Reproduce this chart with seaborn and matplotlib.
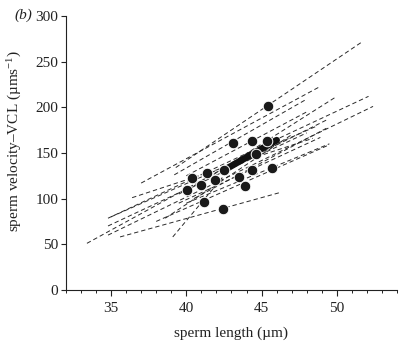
import numpy as np
import pandas as pd
import matplotlib
matplotlib.use("Agg")
import matplotlib.pyplot as plt
import seaborn as sns
from matplotlib.ticker import MultipleLocator

# Male means (sperm length, VCL)
mean_length = [45.4, 43.1, 44.38, 45.33, 44.6, 40.35, 41.35, 42.5, 41.9, 40.97,
               40.06, 41.17, 42.41, 43.51, 43.87, 44.38, 45.68]
mean_vcl = [201, 160.5, 162.8, 163.5, 148.9, 122.6, 127.8, 131.4, 120, 115.3,
            109.5, 96.4, 88.7, 123.7, 113.9, 131, 133.9]

# Within-male regression segments: start/end sperm length and fitted VCL
seg_x0 = [39.3, 37.0, 39.2, 34.8, 33.4, 34.8, 35.6, 36.4, 38.6, 39.1,
          38.0, 39.5, 40.5, 40.0, 39.5, 40.0, 41.0, 35.0, 34.8]
seg_x1 = [51.7, 48.8, 48.0, 52.1, 46.0, 52.4, 46.3, 48.4, 47.0, 43.0,
          49.5, 48.9, 49.3, 49.5, 49.3, 48.0, 49.9, 48.6, 48.0]
seg_y0 = [134, 117, 126, 78.5, 51, 60, 58, 101, 78.5, 58,
          75, 95, 100, 95, 105, 125, 118, 80, 70]
seg_y1 = [272, 222, 209, 212, 165, 201, 107, 166, 170, 135,
          159, 167, 177, 160, 186, 195, 211, 179, 172]

# Dense overlap of several males along the common trend
band_x = [42.7, 46.0]
band_y = [133, 164]

x_ticks = [35, 40, 45, 50]
y_ticks = [0, 50, 100, 150, 200, 250, 300]

sns.set_theme(style="ticks")
plt.rcParams["font.family"] = ["Liberation Serif", "DejaVu Serif"]
plt.rcParams["mathtext.fontset"] = "custom"
plt.rcParams["mathtext.rm"] = "Liberation Serif"
plt.rcParams["mathtext.it"] = "Liberation Serif:italic"

segments = pd.DataFrame({
    "male": np.repeat(np.arange(len(seg_x0)), 2),
    "length": np.ravel(np.column_stack([seg_x0, seg_x1])),
    "vcl": np.ravel(np.column_stack([seg_y0, seg_y1])),
})
means = pd.DataFrame({"length": mean_length, "vcl": mean_vcl})
band = pd.DataFrame({"length": band_x, "vcl": band_y})

fig = plt.figure(figsize=(4.09, 3.48), dpi=100)
ax = fig.add_axes([0.161, 0.167, 0.810, 0.787])

sns.lineplot(data=segments, x="length", y="vcl", units="male", estimator=None,
             color="#2a2a2a", lw=0.7, dashes=(4.5, 3.0), ax=ax, legend=False)
sns.lineplot(data=band, x="length", y="vcl", color="#111111", lw=4.8,
             solid_capstyle="round", ax=ax, legend=False, zorder=4)
sns.scatterplot(data=means, x="length", y="vcl", s=58, color="#1a1a1a",
                edgecolor="white", linewidth=0.7, ax=ax, zorder=5, legend=False)

ax.set_xlim(32, 54)
ax.set_ylim(0, 300)
ax.set_xticks(x_ticks)
ax.set_yticks(y_ticks)
ax.xaxis.set_minor_locator(MultipleLocator(1))
sns.despine(ax=ax)
for side in ("left", "bottom"):
    ax.spines[side].set_linewidth(0.8)
    ax.spines[side].set_color("#222222")
ax.tick_params(axis="x", which="major", length=4, width=0.8, labelsize=11,
               colors="#222222", pad=5)
ax.tick_params(axis="x", which="minor", length=2.2, width=0.7, colors="#222222")
ax.tick_params(axis="y", length=3.5, width=0.8, labelsize=11, colors="#222222", pad=2)

ax.set_xlabel("sperm length (µm)", fontsize=11, color="#222222", labelpad=8)
ax.set_ylabel("sperm velocity–VCL (µms$^{-1}$)", fontsize=11, color="#222222")
ax.yaxis.set_label_coords(-0.125, 0.545)
fig.text(0.035, 0.955, "(b)", fontsize=11, style="italic", color="#222222",
         va="center")

fig.savefig("out.png", dpi=100)
